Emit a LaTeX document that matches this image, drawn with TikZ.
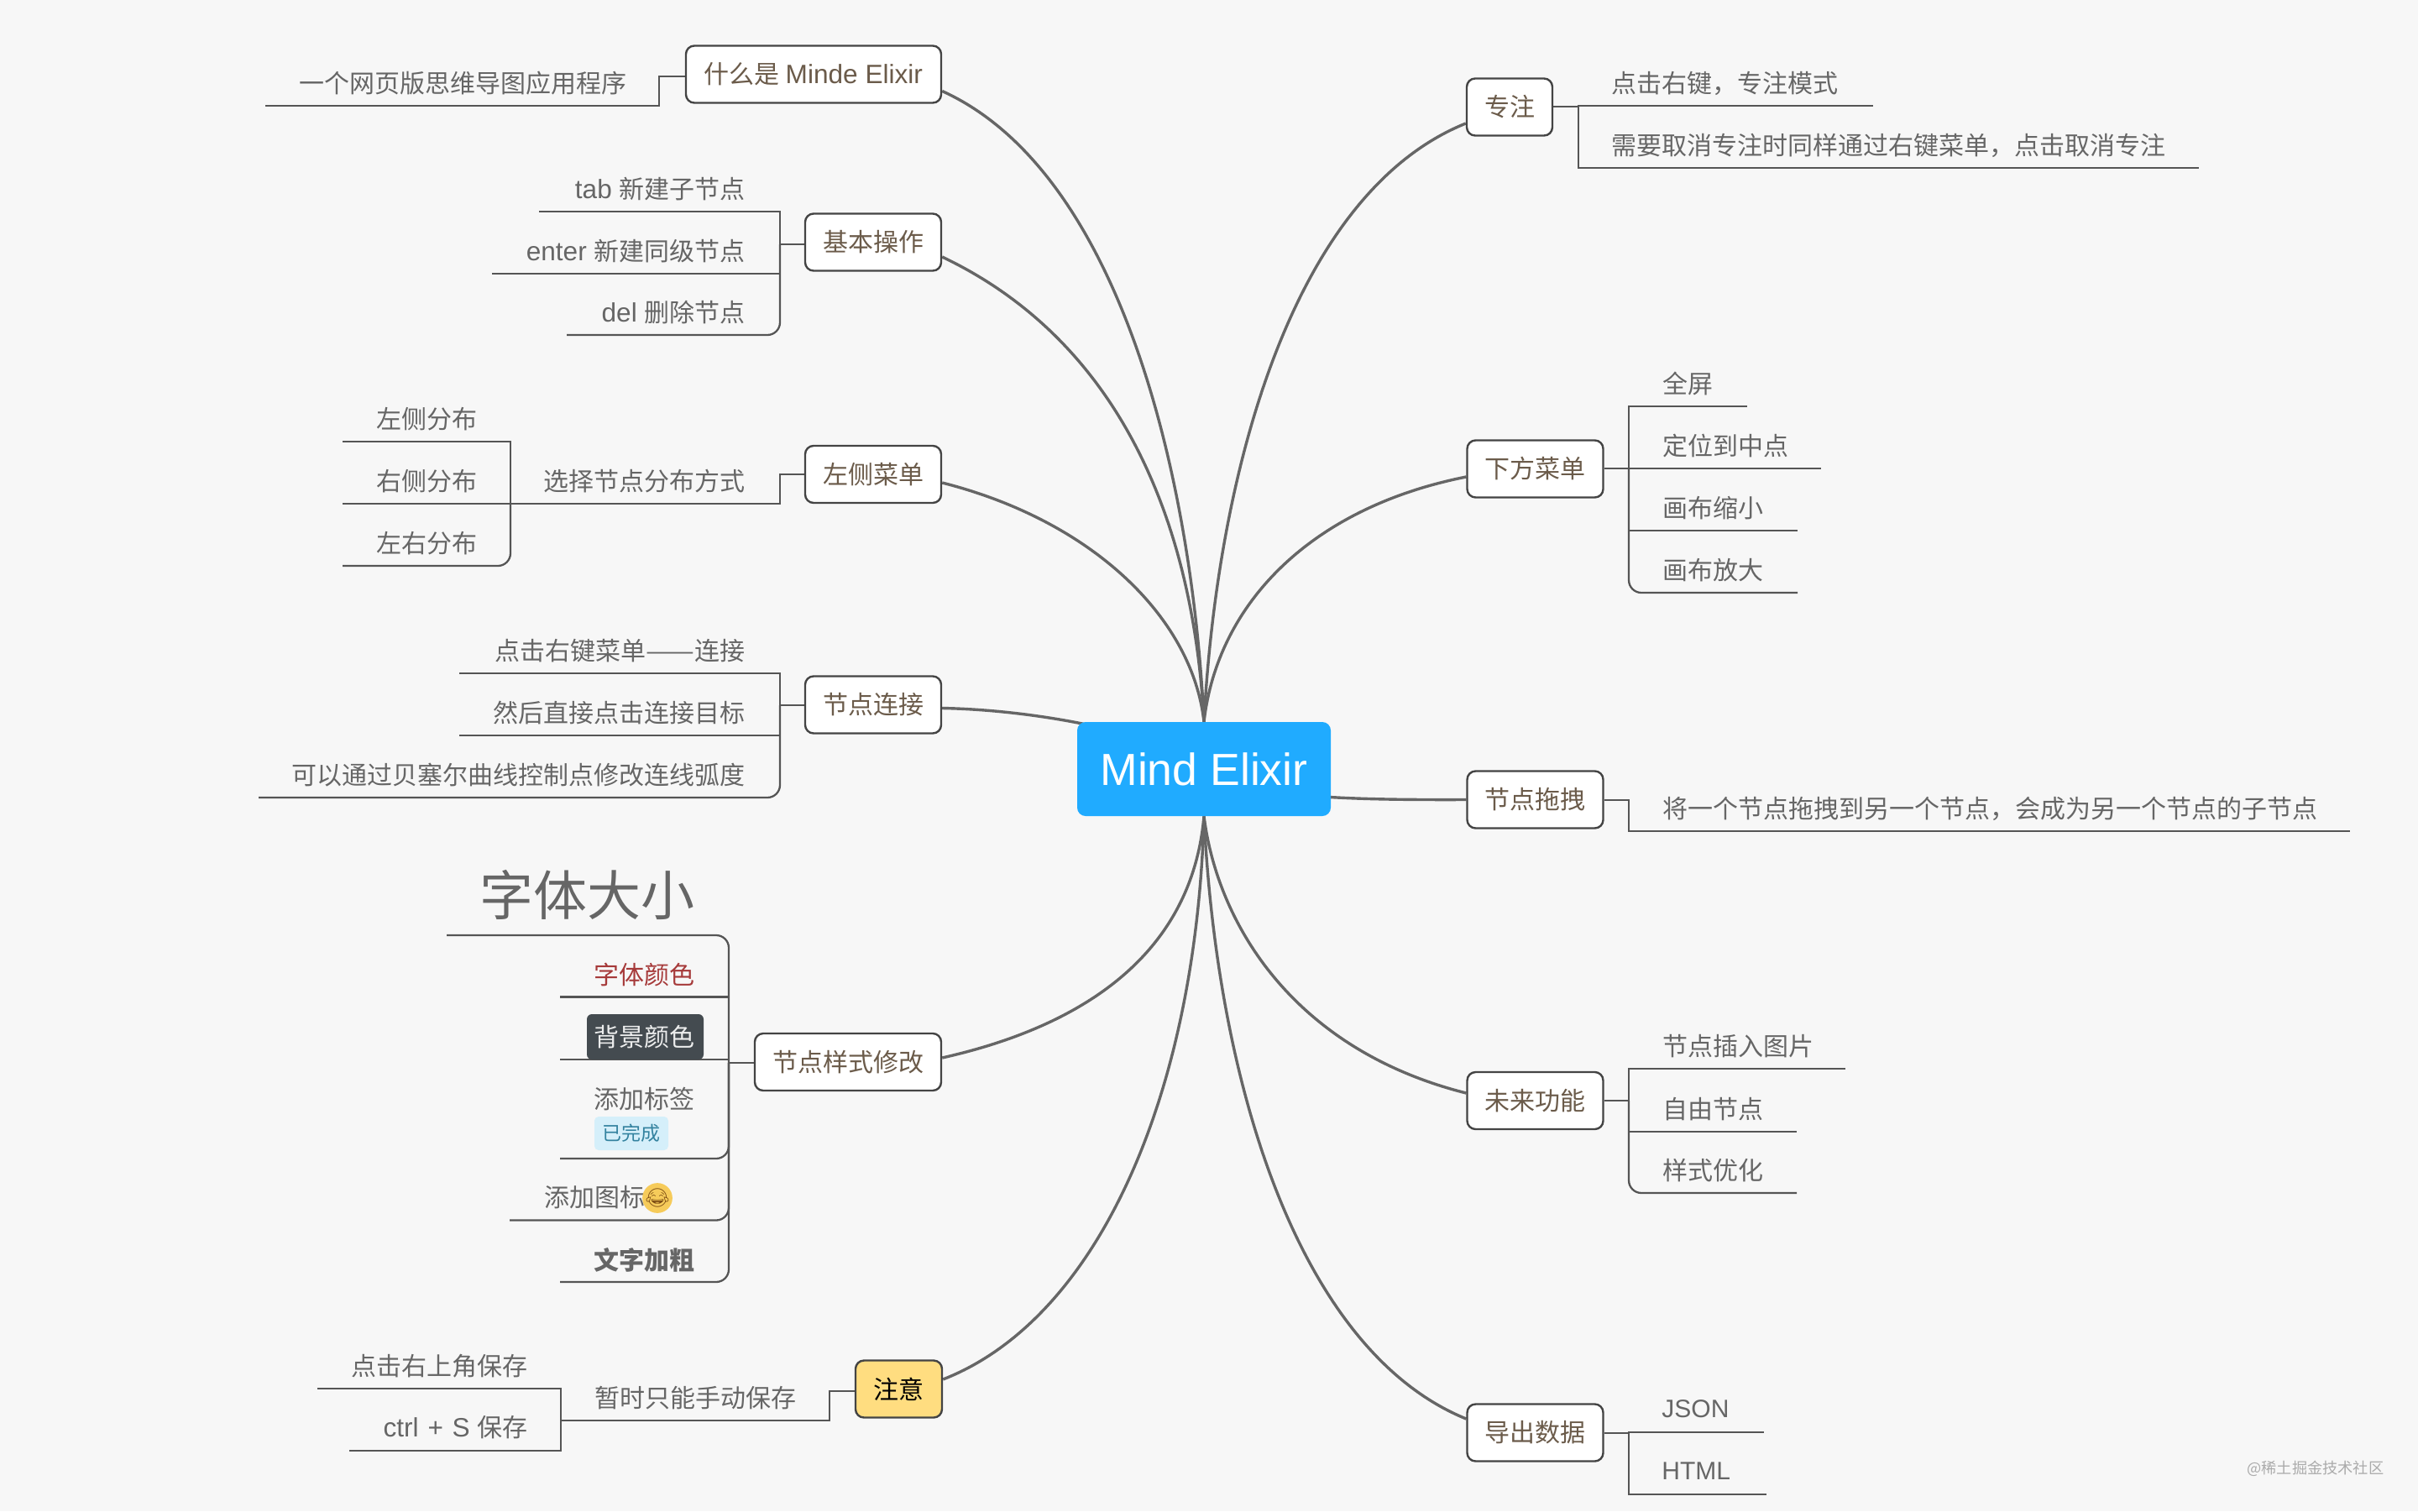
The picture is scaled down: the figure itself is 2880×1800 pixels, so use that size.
\documentclass[tikz,border=0pt]{standalone}
\usepackage{fontspec}
\usepackage{graphicx}
\setmainfont{Noto Sans CJK SC}
\newfontfamily\lat{Liberation Sans}
\newfontfamily\emo{Noto Emoji}
\usetikzlibrary{calc}
\pgfdeclarelayer{bg}
\pgfsetlayers{bg,main}
\definecolor{pagebg}{HTML}{F7F7F7}
\definecolor{rootblue}{HTML}{20ABFF}
\definecolor{curvec}{HTML}{666666}
\definecolor{subc}{HTML}{555555}
\definecolor{boxedge}{HTML}{444444}
\definecolor{boxtext}{HTML}{6B5B4A}
\definecolor{leaftext}{HTML}{666666}
\definecolor{notefill}{HTML}{FFDD80}
\definecolor{darkfill}{HTML}{444B50}
\definecolor{tagfill}{HTML}{D5EFFA}
\definecolor{tagtext}{HTML}{33829F}
\definecolor{redtext}{HTML}{A63A3A}
\definecolor{emojifill}{HTML}{F6CB5A}
\definecolor{emojitext}{HTML}{7A4A12}
\newcommand{\fsz}[1]{\fontsize{#1}{#1}\selectfont}
\newcommand{\latm}{\lat\fsz{15.8}}
\tikzset{
  x=0.5pt,y=-0.5pt,
  rootnode/.style={fill=rootblue,text=white,rounded corners=5pt,minimum width=151pt,minimum height=56pt,inner sep=0pt,font=\lat\fsz{26.8}},
  mainbox/.style={draw=boxedge,line width=1.2pt,fill=white,text=boxtext,rounded corners=5pt,inner sep=0pt,minimum height=34pt,font=\fsz{15}},
  leaf/.style={text=leaftext,inner sep=0pt,font=\fsz{15}},
  leafL/.style={leaf,anchor=base east},
  leafR/.style={leaf,anchor=base west},
  curve/.style={draw=curvec,line width=1.7pt},
  sub/.style={draw=subc,line width=1.15pt},
  subr/.style={sub,rounded corners=7.5pt},
}
\begin{document}
\begin{tikzpicture}
\useasboundingbox (0,0) rectangle (2880,1800);
% central node
\node[rootnode] (root) at (1434,916) {Mind Elixir};
% left main branches
\node[mainbox,minimum width=152pt] (what) at (969,88.5) {什么是 {\latm Minde Elixir}};
\node[mainbox,minimum width=81pt] (basic) at (1040,288.5) {基本操作};
\node[mainbox,minimum width=81pt] (lmenu) at (1040,565) {左侧菜单};
\node[mainbox,minimum width=81pt] (link) at (1040,839.5) {节点连接};
\node[mainbox,minimum width=111pt] (style) at (1010,1265) {节点样式修改};
\node[mainbox,minimum width=51.5pt,fill=notefill,text=black] (note) at (1070.5,1654.5) {注意};
% right main branches
\node[mainbox,minimum width=51pt] (focus) at (1798,127.5) {专注};
\node[mainbox,minimum width=81pt] (bmenu) at (1828.5,558.5) {下方菜单};
\node[mainbox,minimum width=81pt] (drag) at (1828.5,952.5) {节点拖拽};
\node[mainbox,minimum width=81pt] (future) at (1828.5,1311) {未来功能};
\node[mainbox,minimum width=81pt] (export) at (1828.5,1706.5) {导出数据};
% leaves left
\node[leafL] (what1) at (747,110) {一个网页版思维导图应用程序};
\node[leafL] (basic1) at (888,236) {{\latm tab }新建子节点};
\node[leafL] (basic2) at (888,310) {{\latm enter }新建同级节点};
\node[leafL] (basic3) at (888,383) {{\latm del }删除节点};
\node[leafL] (lm) at (888,584) {选择节点分布方式};
\node[leafL] (lm1) at (569,510) {左侧分布};
\node[leafL] (lm2) at (569,584) {右侧分布};
\node[leafL] (lm3) at (569,658) {左右分布};
\node[leafL] (link1) at (888,786) {点击右键菜单\scalebox{1.15}[1]{——}连接};
\node[leafL] (link2) at (888,860) {然后直接点击连接目标};
\node[leafL] (link3) at (888,934) {可以通过贝塞尔曲线控制点修改连线弧度};
\node[leafL,font=\fsz{32}] (st1) at (828,1090) {字体大小};
\node[leafL,text=redtext] (st2) at (828,1172) {字体颜色};
\node[fill=darkfill,rounded corners=3pt,minimum width=69.5pt,minimum height=27pt,inner sep=0pt] (st3bg) at (768.5,1235) {};
\node[leafL,text=white!90!darkfill] (st3) at (828,1246) {背景颜色};
\node[leafL] (st4) at (828,1320) {添加标签};
\node[fill=tagfill,text=tagtext,rounded corners=2.5pt,minimum width=44pt,minimum height=20pt,inner sep=0pt,font=\fsz{11.5}] (tag) at (752,1350) {已完成};
\node[leafR] (st5) at (648,1437) {添加图标};
\node[circle,fill=emojifill,inner sep=0pt,minimum size=14.5pt,text=emojitext,font=\emo\fsz{11}] (emoji) at (783,1427) {😂};
\node[leafL,font=\bfseries\fsz{15}] (st6) at (828,1512) {文字加粗};
\node[leafL] (nt) at (949,1676) {暂时只能手动保存};
\node[leafL] (nt1) at (629,1638) {点击右上角保存};
\node[leafL] (nt2) at (629,1711) {{\latm ctrl\kern1pt{} +\kern1pt{} S }保存};
% leaves right
\node[leafR] (fo1) at (1919,110) {点击右键，专注模式};
\node[leafR] (fo2) at (1919,184) {需要取消专注时同样通过右键菜单，点击取消专注};
\node[leafR] (bm1) at (1980,468) {全屏};
\node[leafR] (bm2) at (1980,542) {定位到中点};
\node[leafR] (bm3) at (1980,616) {画布缩小};
\node[leafR] (bm4) at (1980,690) {画布放大};
\node[leafR] (dr1) at (1980,974) {将一个节点拖拽到另一个节点，会成为另一个节点的子节点};
\node[leafR] (fu1) at (1980,1257) {节点插入图片};
\node[leafR] (fu2) at (1980,1332) {自由节点};
\node[leafR] (fu3) at (1980,1405) {样式优化};
\node[leafR,font=\lat\fsz{15}] (ex1) at (1979,1688) {JSON};
\node[leafR,font=\lat\fsz{15}] (ex2) at (1979,1762) {HTML};
% watermark
\node[anchor=base west,inner sep=0pt,text=black!33,font=\fsz{9.1}] (mark) at (2676,1755) {@稀土掘金技术社区};
% free ends of the underlines and the hubs
\coordinate (hWhat) at (785,91);
\coordinate (uWhat) at (316,126);
\coordinate (hBasic) at (929,291);
\coordinate (uB1) at (642,252); \coordinate (uB2) at (586,326); \coordinate (uB3) at (675,399);
\coordinate (hL) at (929,565);
\coordinate (uL) at (608,600);
\coordinate (uL1) at (408,526); \coordinate (uL2) at (408,600); \coordinate (uL3) at (408,674);
\coordinate (hLk) at (929,840);
\coordinate (uK1) at (547,802); \coordinate (uK2) at (547,876); \coordinate (uK3) at (308,950);
\coordinate (hS) at (868,1266);
\coordinate (uS1) at (532,1114); \coordinate (uS2) at (667,1187.5); \coordinate (uS3) at (667,1262);
\coordinate (uS4) at (667,1380); \coordinate (uS5) at (607,1453.5); \coordinate (uS6) at (667,1527);
\coordinate (hN) at (988,1657);
\coordinate (uN) at (668,1692);
\coordinate (uN1) at (378,1654); \coordinate (uN2) at (415.5,1728);
\coordinate (hF) at (1880,127);
\coordinate (uF1) at (2231,126); \coordinate (uF2) at (2619,200);
\coordinate (hM) at (1940,558);
\coordinate (uM1) at (2081,484); \coordinate (uM2) at (2169,558); \coordinate (uM3) at (2141,632); \coordinate (uM4) at (2141,706);
\coordinate (hD) at (1940,953);
\coordinate (uD) at (2799,990);
\coordinate (hU) at (1940,1311);
\coordinate (uU1) at (2198,1273); \coordinate (uU2) at (2140,1348); \coordinate (uU3) at (2140,1421);
\coordinate (hE) at (1940,1707);
\coordinate (uE1) at (2101,1706); \coordinate (uE2) at (2104,1780);
\begin{pgfonlayer}{bg}
\fill[pagebg] (0,0) rectangle (2880,1800);
% main curves
\draw[curve] (root.north) .. controls (1420,570) and (1335,205) .. ($(what.east)+(0,20)$);
\draw[curve] (root.north) .. controls (1420,600) and (1320,400) .. ($(basic.east)+(0,17.5)$);
\draw[curve] (root.north) .. controls (1420,735) and (1300,620) .. ($(lmenu.east)+(0,10)$);
\draw[curve] (root.center) .. controls (1400,880) and (1250,846) .. ($(link.east)+(0,4)$);
\draw[curve] (root.south) .. controls (1420,1130) and (1300,1220) .. ($(style.east)+(0,-5)$);
\draw[curve] (root.south) .. controls (1425,1300) and (1310,1570) .. ($(note.east)+(0,-11.5)$);
\draw[curve] (root.north) .. controls (1450,560) and (1540,230) .. ($(focus.west)+(0,19.5)$);
\draw[curve] (root.north) .. controls (1450,720) and (1560,605) .. ($(bmenu.west)+(0,9.5)$);
\draw[curve] (root.center) .. controls (1480,950) and (1600,953) .. (drag.west);
\draw[curve] (root.south) .. controls (1450,1100) and (1540,1250) .. ($(future.west)+(0,-9)$);
\draw[curve] (root.south) .. controls (1450,1300) and (1550,1610) .. ($(export.west)+(0,-16.5)$);
% sub branches, left
\draw[sub] (what.west |- hWhat) -- (hWhat) |- (uWhat);
\draw[sub] (basic.west |- hBasic) -- (hBasic);
\draw[sub] (hBasic) |- (uB1);
\draw[sub] (hBasic) |- (uB2);
\draw[subr] (hBasic) |- (uB3);
\draw[sub] (lmenu.west |- hL) -- (hL) |- (uL);
\draw[sub] (uL) |- (uL1);
\draw[sub] (uL) -- (uL2);
\draw[subr] (uL) |- (uL3);
\draw[sub] (link.west |- hLk) -- (hLk);
\draw[sub] (hLk) |- (uK1);
\draw[sub] (hLk) |- (uK2);
\draw[subr] (hLk) |- (uK3);
\draw[sub] (style.west |- hS) -- (hS);
\draw[subr] (hS) |- (uS1);
\draw[sub] (hS) |- (uS2);
\draw[sub] (hS) |- (uS3);
\draw[subr] (hS) |- (uS4);
\draw[subr] (hS) |- (uS5);
\draw[subr] (hS) |- (uS6);
\draw[sub] (note.west |- hN) -- (hN) |- (uN);
\draw[sub] (uN) |- (uN1);
\draw[sub] (uN) |- (uN2);
% sub branches, right
\draw[sub] (focus.east |- hF) -- (hF);
\draw[sub] (hF) |- (uF1);
\draw[sub] (hF) |- (uF2);
\draw[sub] (bmenu.east |- hM) -- (hM);
\draw[sub] (hM) |- (uM1);
\draw[sub] (hM) |- (uM2);
\draw[sub] (hM) |- (uM3);
\draw[subr] (hM) |- (uM4);
\draw[sub] (drag.east |- hD) -- (hD) |- (uD);
\draw[sub] (future.east |- hU) -- (hU);
\draw[sub] (hU) |- (uU1);
\draw[sub] (hU) |- (uU2);
\draw[subr] (hU) |- (uU3);
\draw[sub] (export.east |- hE) -- (hE);
\draw[sub] (hE) |- (uE1);
\draw[sub] (hE) |- (uE2);
\end{pgfonlayer}
\end{tikzpicture}
\end{document}
